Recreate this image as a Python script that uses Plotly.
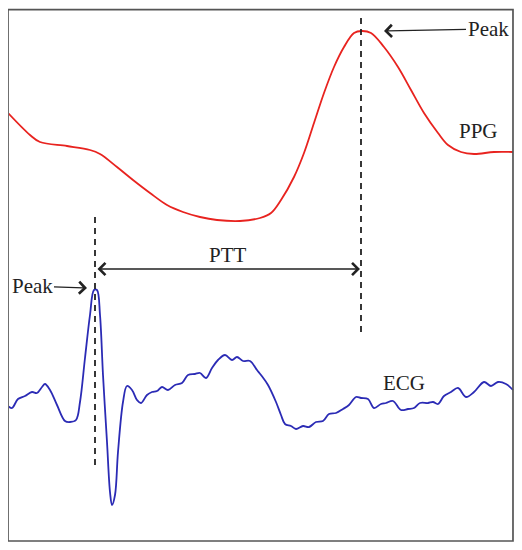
import plotly.graph_objects as go

# values (screen-like units: x to the right, y downward)
ppg_x = [8, 30, 40, 67, 90, 100, 117, 133, 150, 167, 183, 200, 217, 240, 260,
         271, 281, 294, 304, 314, 324, 334, 344, 354, 362, 371, 384, 398, 411,
         424, 438, 448, 461, 474, 494, 513]
ppg_y = [113, 135, 142, 146, 150, 154, 167, 180, 193, 205, 212, 217, 220, 221, 218,
         213, 200, 177, 153, 123, 93, 67, 47, 33, 31, 33, 47, 67, 90,
         113, 133, 145, 152, 154, 152, 152]

ecg_x = [8, 12, 18, 25, 32, 37, 42, 45, 50, 57, 65, 70, 76, 80, 85, 90, 94, 97,
         100, 103, 107, 110, 112, 115, 118, 123, 127, 132, 137, 141, 147, 152,
         157, 162, 168, 175, 182, 188, 195, 200, 206, 212, 218, 225, 232, 237,
         243, 250, 257, 261, 268, 276, 281, 285, 291, 296, 303, 309, 316, 323,
         329, 336, 343, 349, 356, 361, 368, 374, 381, 386, 393, 401, 408, 414,
         420, 428, 433, 438, 444, 451, 458, 466, 474, 484, 491, 498, 506, 513]
ecg_y = [406, 408, 399, 396, 392, 393, 387, 384, 390, 405, 421, 422, 420, 402,
         358, 315, 290, 290, 315, 375, 442, 492, 505, 495, 452, 402, 386, 390,
         400, 403, 395, 392, 391, 387, 390, 385, 383, 375, 374, 373, 378, 368,
         360, 355, 360, 357, 361, 361, 370, 375, 385, 402, 415, 424, 426, 429,
         426, 427, 422, 421, 414, 413, 409, 405, 397, 398, 399, 408, 404, 403,
         401, 410, 409, 408, 403, 403, 402, 404, 396, 392, 388, 397, 392, 382,
         386, 382, 384, 390]

# marker lines
ecg_peak = [95, 288]
ppg_peak = [361, 31]
ecg_marker_y = [217, 467]
ppg_marker_y = [18, 337]
ptt_y = 269

font = dict(family="Liberation Serif, Times New Roman, serif", size=21, color="#222")

fig = go.Figure()

fig.add_trace(go.Scatter(x=ppg_x, y=ppg_y, mode="lines",
                         line=dict(color="#e8231f", width=1.8, shape="spline"),
                         hoverinfo="skip"))
fig.add_trace(go.Scatter(x=ecg_x, y=ecg_y, mode="lines",
                         line=dict(color="#2b2bb5", width=1.8, shape="spline"),
                         hoverinfo="skip"))

# dashed verticals
fig.add_trace(go.Scatter(x=[ecg_peak[0]] * 2, y=ecg_marker_y, mode="lines",
                         line=dict(color="#222", width=1.8, dash="6px,5px"),
                         hoverinfo="skip"))
fig.add_trace(go.Scatter(x=[ppg_peak[0]] * 2, y=ppg_marker_y, mode="lines",
                         line=dict(color="#222", width=1.8, dash="6px,5px"),
                         hoverinfo="skip"))

arrow = dict(showarrow=True, arrowhead=4, arrowsize=1.8, arrowwidth=1.3,
             arrowcolor="#222", xref="x", yref="y", axref="x", ayref="y",
             font=font)

# PTT double arrow
fig.add_annotation(x=ppg_peak[0] - 1, y=ptt_y, ax=ecg_peak[0] + 1, ay=ptt_y,
                   text="", arrowside="end+start", standoff=0, startstandoff=0,
                   **arrow)
fig.add_annotation(x=228, y=255, text="PTT", showarrow=False, font=font)

# Peak labels
fig.add_annotation(x=ppg_peak[0] + 23, y=ppg_peak[1], ax=488, ay=29,
                   text="Peak", standoff=0, **arrow)
fig.add_annotation(x=ecg_peak[0] - 8, y=ecg_peak[1], ax=32, ay=286,
                   text="Peak", standoff=0, **arrow)

fig.add_annotation(x=478, y=131, text="PPG", showarrow=False, font=font)
fig.add_annotation(x=404, y=383, text="ECG", showarrow=False, font=font)

axis = dict(showgrid=False, zeroline=False, showticklabels=False, ticks="",
            showline=False)
fig.update_xaxes(range=[9, 514], **axis)
fig.update_yaxes(range=[541, 9], **axis)

# frame box
fig.add_shape(type="rect", xref="paper", yref="paper",
              x0=-0.002, x1=0.998, y0=0.0, y1=0.999,
              line=dict(color="#555", width=1.7))

# the page body adds 8px around the figure, so the margins are trimmed to match
fig.update_layout(width=507, height=534, showlegend=False,
                  margin=dict(l=1, r=1, t=1, b=1),
                  plot_bgcolor="white", paper_bgcolor="white")

fig.write_html("out.html")
